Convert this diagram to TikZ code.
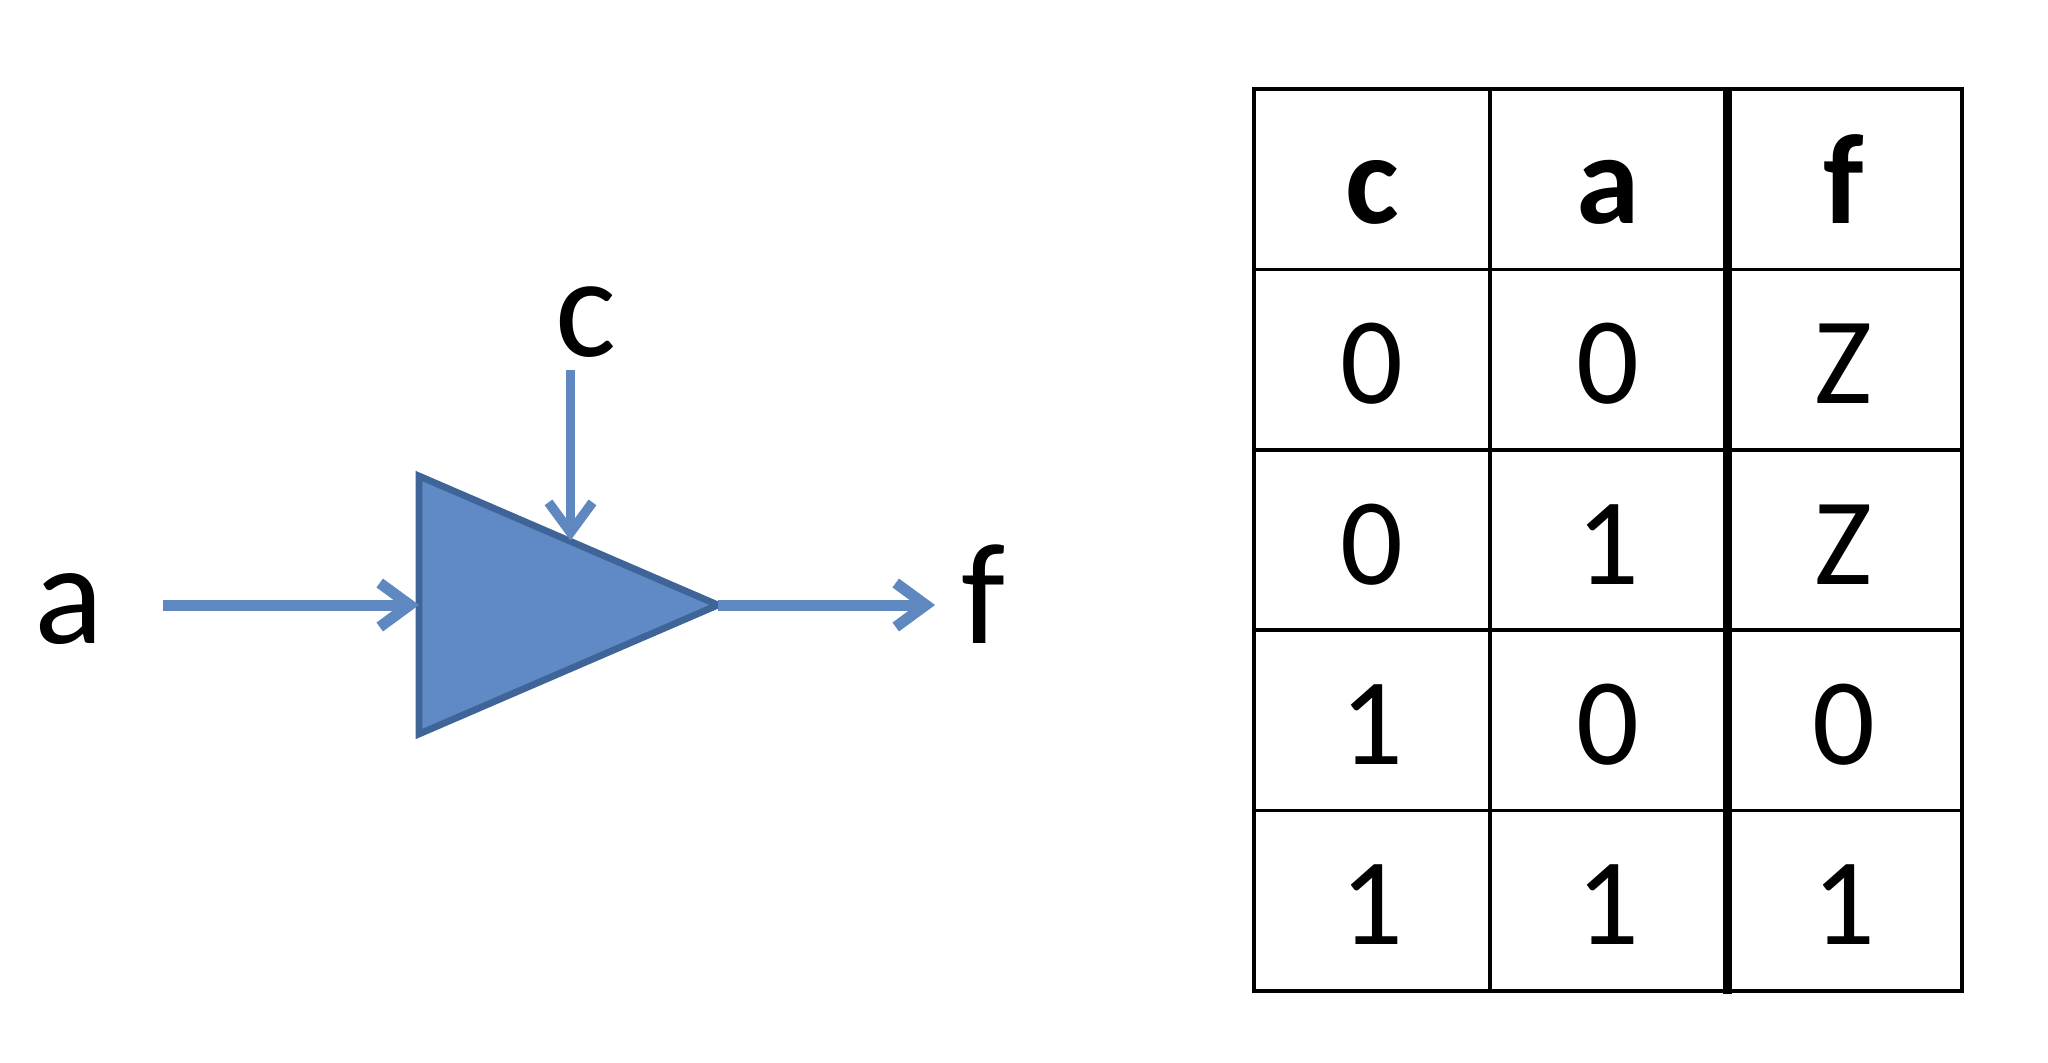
\documentclass[tikz,border=0pt]{standalone}
\usepackage{fontspec}
\setmainfont{Carlito}
\usetikzlibrary{positioning,arrows.meta,shapes.geometric}
\definecolor{gatefill}{HTML}{5F8AC5}
\definecolor{gateline}{HTML}{3F6598}
\definecolor{wirecol}{HTML}{5E88BF}
\tikzset{
    cell/.style={draw, line width=1.8pt, rectangle, minimum width=118pt, minimum height=90.2pt, inner sep=0pt, outer sep=0pt, text height=44pt, text depth=0pt, font=\fontsize{62}{70}\selectfont},
    headcell/.style={cell, font=\fontsize{64}{70}\selectfont\bfseries},
    pinlabel/.style={inner sep=0pt, outer sep=0pt, anchor=base, font=\fontsize{72}{80}\selectfont},
    wire/.style={draw=wirecol, line width=5.5pt, -{Straight Barb[length=15pt, width=22pt]}},
}
\begin{document}
\begin{tikzpicture}[x=0.5pt, y=-0.5pt, node distance=0pt]
        \useasboundingbox (0,0) rectangle (2048,1063);

        \node (gate) [isosceles triangle, isosceles triangle stretches, draw=gateline, fill=gatefill, line width=3.4pt, minimum width=129pt, minimum height=149.5pt, inner sep=0pt, outer sep=0pt, anchor=lower side] at (419,605) {};
        \node (a) [pinlabel] at (69,643) {a};
        \node (c) [pinlabel] at (586,357) {c};
        \node (f) [pinlabel] at (983,643) {f};

        \draw[wire] ([xshift=30pt]a.east |- gate.lower side) -- (gate.lower side);
        \draw[wire, line width=4.8pt] ([xshift=1pt, yshift=-6pt]gate.left side |- c.south) -- ([xshift=1pt]gate.left side);
        \draw[wire] (gate.apex) -- ([xshift=-13pt]f.west |- gate.apex);

        \node (hc) [headcell, anchor=north west] at (1254,89) {c};
        \node (ha) [headcell, right=of hc] {a};
        \node (hf) [headcell, right=of ha] {f};
        \node (c1) [cell, below=of hc] {0};
        \node (a1) [cell, right=of c1] {0};
        \node (f1) [cell, right=of a1] {Z};
        \node (c2) [cell, below=of c1] {0};
        \node (a2) [cell, right=of c2] {1};
        \node (f2) [cell, right=of a2] {Z};
        \node (c3) [cell, below=of c2] {1};
        \node (a3) [cell, right=of c3] {0};
        \node (f3) [cell, right=of a3] {0};
        \node (c4) [cell, below=of c3] {1};
        \node (a4) [cell, right=of c4] {1};
        \node (f4) [cell, right=of a4] {1};

        \draw[line width=4.5pt] ([xshift=0.5pt]ha.north east) -- ([xshift=0.5pt, yshift=-1.5pt]a4.south east);
    \end{tikzpicture}
\end{document}
